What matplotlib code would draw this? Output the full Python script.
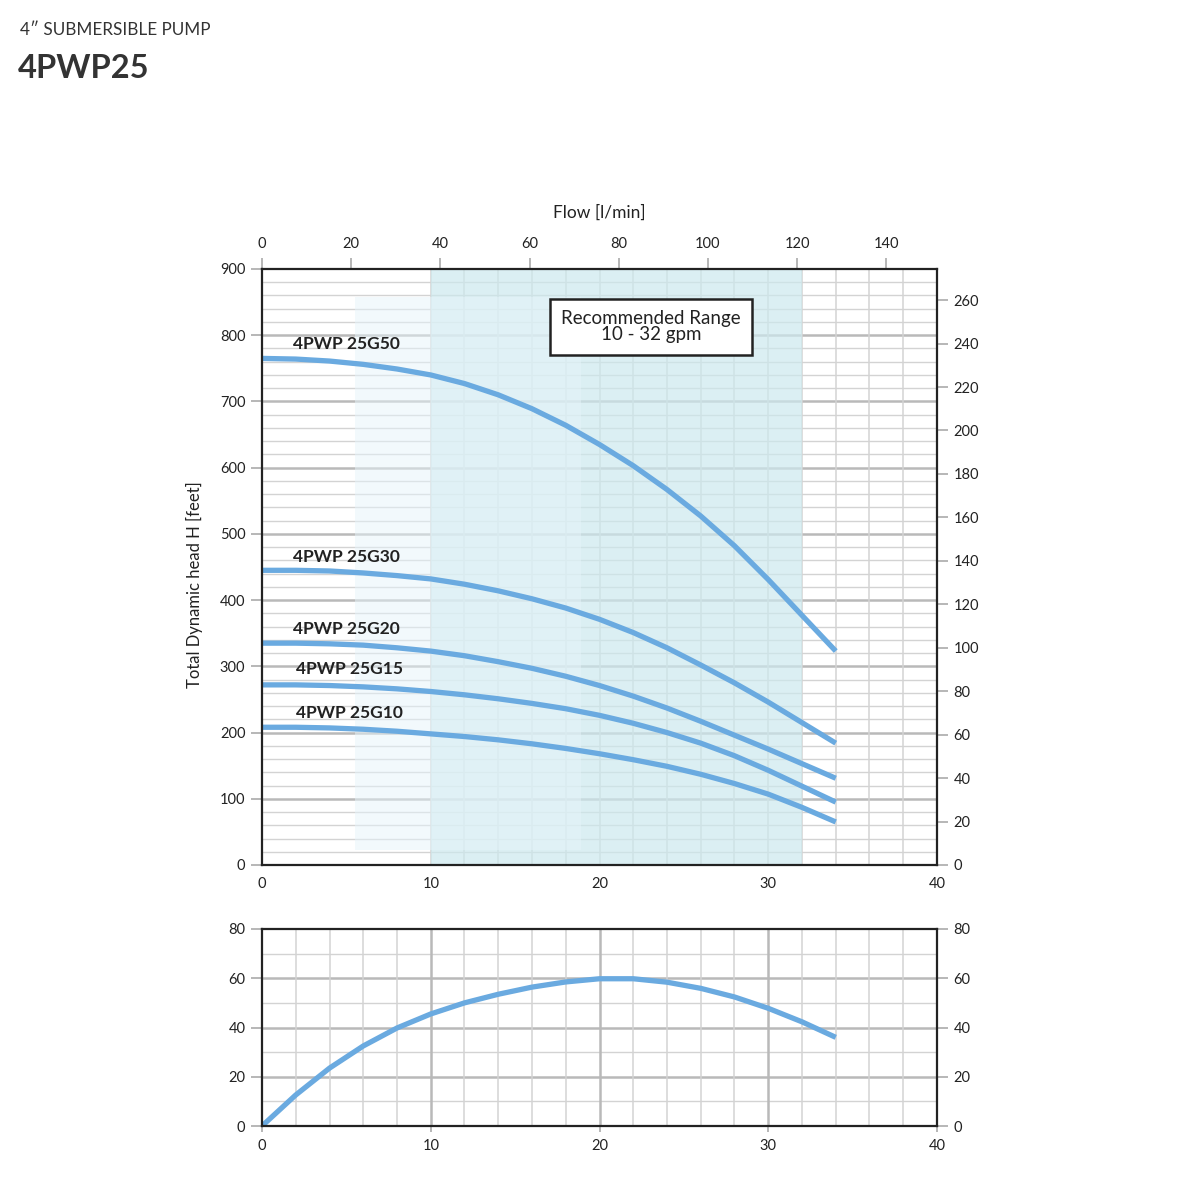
import matplotlib
matplotlib.use('Agg')
import matplotlib.pyplot as plt
import numpy as np
from matplotlib.patches import Rectangle

plt.rcParams['font.family'] = ['Lato', 'DejaVu Sans']

# flow in gpm, head in feet (every 2 gpm)
flow = [0, 2, 4, 6, 8, 10, 12, 14, 16, 18, 20, 22, 24, 26, 28, 30, 32, 34]
head_g50 = [765, 764, 761, 756, 749, 740, 727, 710, 689, 664, 635, 603, 567, 527, 482, 431, 377, 323]
head_g30 = [445, 445, 444, 441, 437, 432, 424, 414, 402, 388, 371, 351, 328, 302, 275, 246, 215, 184]
head_g20 = [335, 335, 334, 332, 328, 323, 316, 307, 297, 285, 271, 255, 237, 217, 196, 175, 153, 131]
head_g15 = [272, 272, 271, 269, 266, 262, 257, 251, 244, 236, 226, 214, 200, 184, 165, 143, 119, 95]
head_g10 = [208, 208, 207, 205, 202, 198, 194, 189, 183, 176, 168, 159, 149, 137, 123, 107, 87, 65]
models = ['4PWP 25G50', '4PWP 25G30', '4PWP 25G20', '4PWP 25G15', '4PWP 25G10']
label_pos = [(1.85, 787), (1.85, 465), (1.85, 356), (2.0, 296), (2.0, 230)]

# efficiency curve [%]
eff_flow = [0, 2, 4, 6, 8, 10, 12, 14, 16, 18, 20, 22, 24, 26, 28, 30, 32, 34]
eff = [0, 12.6, 23.5, 32.5, 39.8, 45.5, 50, 53.5, 56.4, 58.5, 59.8, 59.8, 58.4, 55.9, 52.4, 47.8, 42.3, 36]

rec_range = (10, 32)
line_col = '#6aaae0'
minor_col = '#d3d3d3'
major_col = '#b9b9b9'
frame_col = '#222222'
tick_col = '#aaaaaa'
txt_col = '#222222'

fig = plt.figure(figsize=(12, 12), dpi=100)

fig.text(20/1200, 1-30/1200, '4\u2033 SUBMERSIBLE PUMP', fontsize=12.3, color='#333333', va='center', ha='left')
fig.text(18/1200, 1-68/1200, '4PWP25', fontsize=23.5, color='#333333', va='center', ha='left', fontweight='bold')

# main chart
ax = fig.add_axes([262/1200, 1-865/1200, 675/1200, 596/1200])
ax.set_xlim(0, 40)
ax.set_ylim(0, 900)

# grid
for y in range(20, 900, 20):
    if y % 100 == 0:
        ax.axhline(y, color=major_col, lw=1.8, zorder=1)
    else:
        ax.axhline(y, color=minor_col, lw=1.0, zorder=1)
for x in range(10, 40, 2):
    ax.axvline(x, color=minor_col, lw=1.1, zorder=1)

# recommended range shading
ax.add_patch(Rectangle((rec_range[0], 0), rec_range[1]-rec_range[0], 900,
                       facecolor='#cde9ee', alpha=0.7, edgecolor='none', zorder=2))
ax.add_patch(Rectangle((5.5, 23), 13.4, 835, facecolor='#e6f4fa', alpha=0.5,
                       edgecolor='none', zorder=2))

for h, name, pos in zip([head_g50, head_g30, head_g20, head_g15, head_g10], models, label_pos):
    ax.plot(flow, h, color=line_col, lw=3.8, solid_capstyle='butt', solid_joinstyle='round', zorder=4)
    ax.text(pos[0], pos[1], name, fontsize=12.5, fontweight='bold', color=txt_col,
            ha='left', va='center', zorder=5)

ax.text(23.05, 813, 'Recommended Range\n10 - 32 gpm', fontsize=13.5, color=txt_col,
        ha='center', va='center', linespacing=0.95, zorder=6,
        bbox=dict(boxstyle='square,pad=0.6', facecolor='white', edgecolor=frame_col, lw=1.8))

for s in ax.spines.values():
    s.set_color(frame_col)
    s.set_linewidth(1.6)
    s.set_zorder(7)

ax.set_xticks([0, 10, 20, 30, 40])
ax.set_yticks(range(0, 901, 100))
ax.tick_params(axis='x', length=0, pad=9, labelsize=10.5, colors=txt_col)
ax.tick_params(axis='y', length=8, width=1.2, color=tick_col, pad=4, labelsize=10.5, labelcolor=txt_col)
ax.set_ylabel('Total Dynamic head H [feet]', fontsize=12, color=txt_col)
ax.yaxis.set_label_coords(-0.088, 0.47)

top = ax.secondary_xaxis('top', functions=(lambda g: g*3.785, lambda l: l/3.785))
top.set_xticks(range(0, 141, 20))
top.tick_params(length=8, width=1.2, color=tick_col, pad=5, labelsize=10.5, labelcolor=txt_col)
top.spines['top'].set_visible(False)
top.set_xlabel('Flow [l/min]', fontsize=12.5, color=txt_col, labelpad=14)

right = ax.secondary_yaxis('right', functions=(lambda f: f*0.3048, lambda m: m/0.3048))
right.set_yticks(range(0, 261, 20))
right.tick_params(length=8, width=1.2, color=tick_col, pad=4, labelsize=10.5, labelcolor=txt_col)
right.spines['right'].set_visible(False)

# efficiency chart
ax2 = fig.add_axes([262/1200, 1-1126/1200, 675/1200, 197/1200])
ax2.set_xlim(0, 40)
ax2.set_ylim(0, 80)
for y in range(10, 80, 10):
    if y % 20 == 0:
        ax2.axhline(y, color=major_col, lw=1.8, zorder=1)
    else:
        ax2.axhline(y, color=minor_col, lw=1.0, zorder=1)
for x in range(2, 40, 2):
    if x % 10 == 0:
        ax2.axvline(x, color=major_col, lw=1.8, zorder=1)
    else:
        ax2.axvline(x, color=minor_col, lw=1.1, zorder=1)
ax2.plot(eff_flow, eff, color=line_col, lw=3.8, solid_capstyle='butt', solid_joinstyle='round', zorder=4)
for s in ax2.spines.values():
    s.set_color(frame_col)
    s.set_linewidth(1.6)
    s.set_zorder(7)
ax2.set_xticks([0, 10, 20, 30, 40])
ax2.set_yticks(range(0, 81, 20))
ax2.tick_params(axis='x', length=4, width=1.2, color=tick_col, pad=5, labelsize=10.5, labelcolor=txt_col)
ax2.tick_params(axis='y', length=8, width=1.2, color=tick_col, pad=4, labelsize=10.5,
                labelcolor=txt_col, right=True, labelright=True)

fig.savefig('out.png', dpi=100)
